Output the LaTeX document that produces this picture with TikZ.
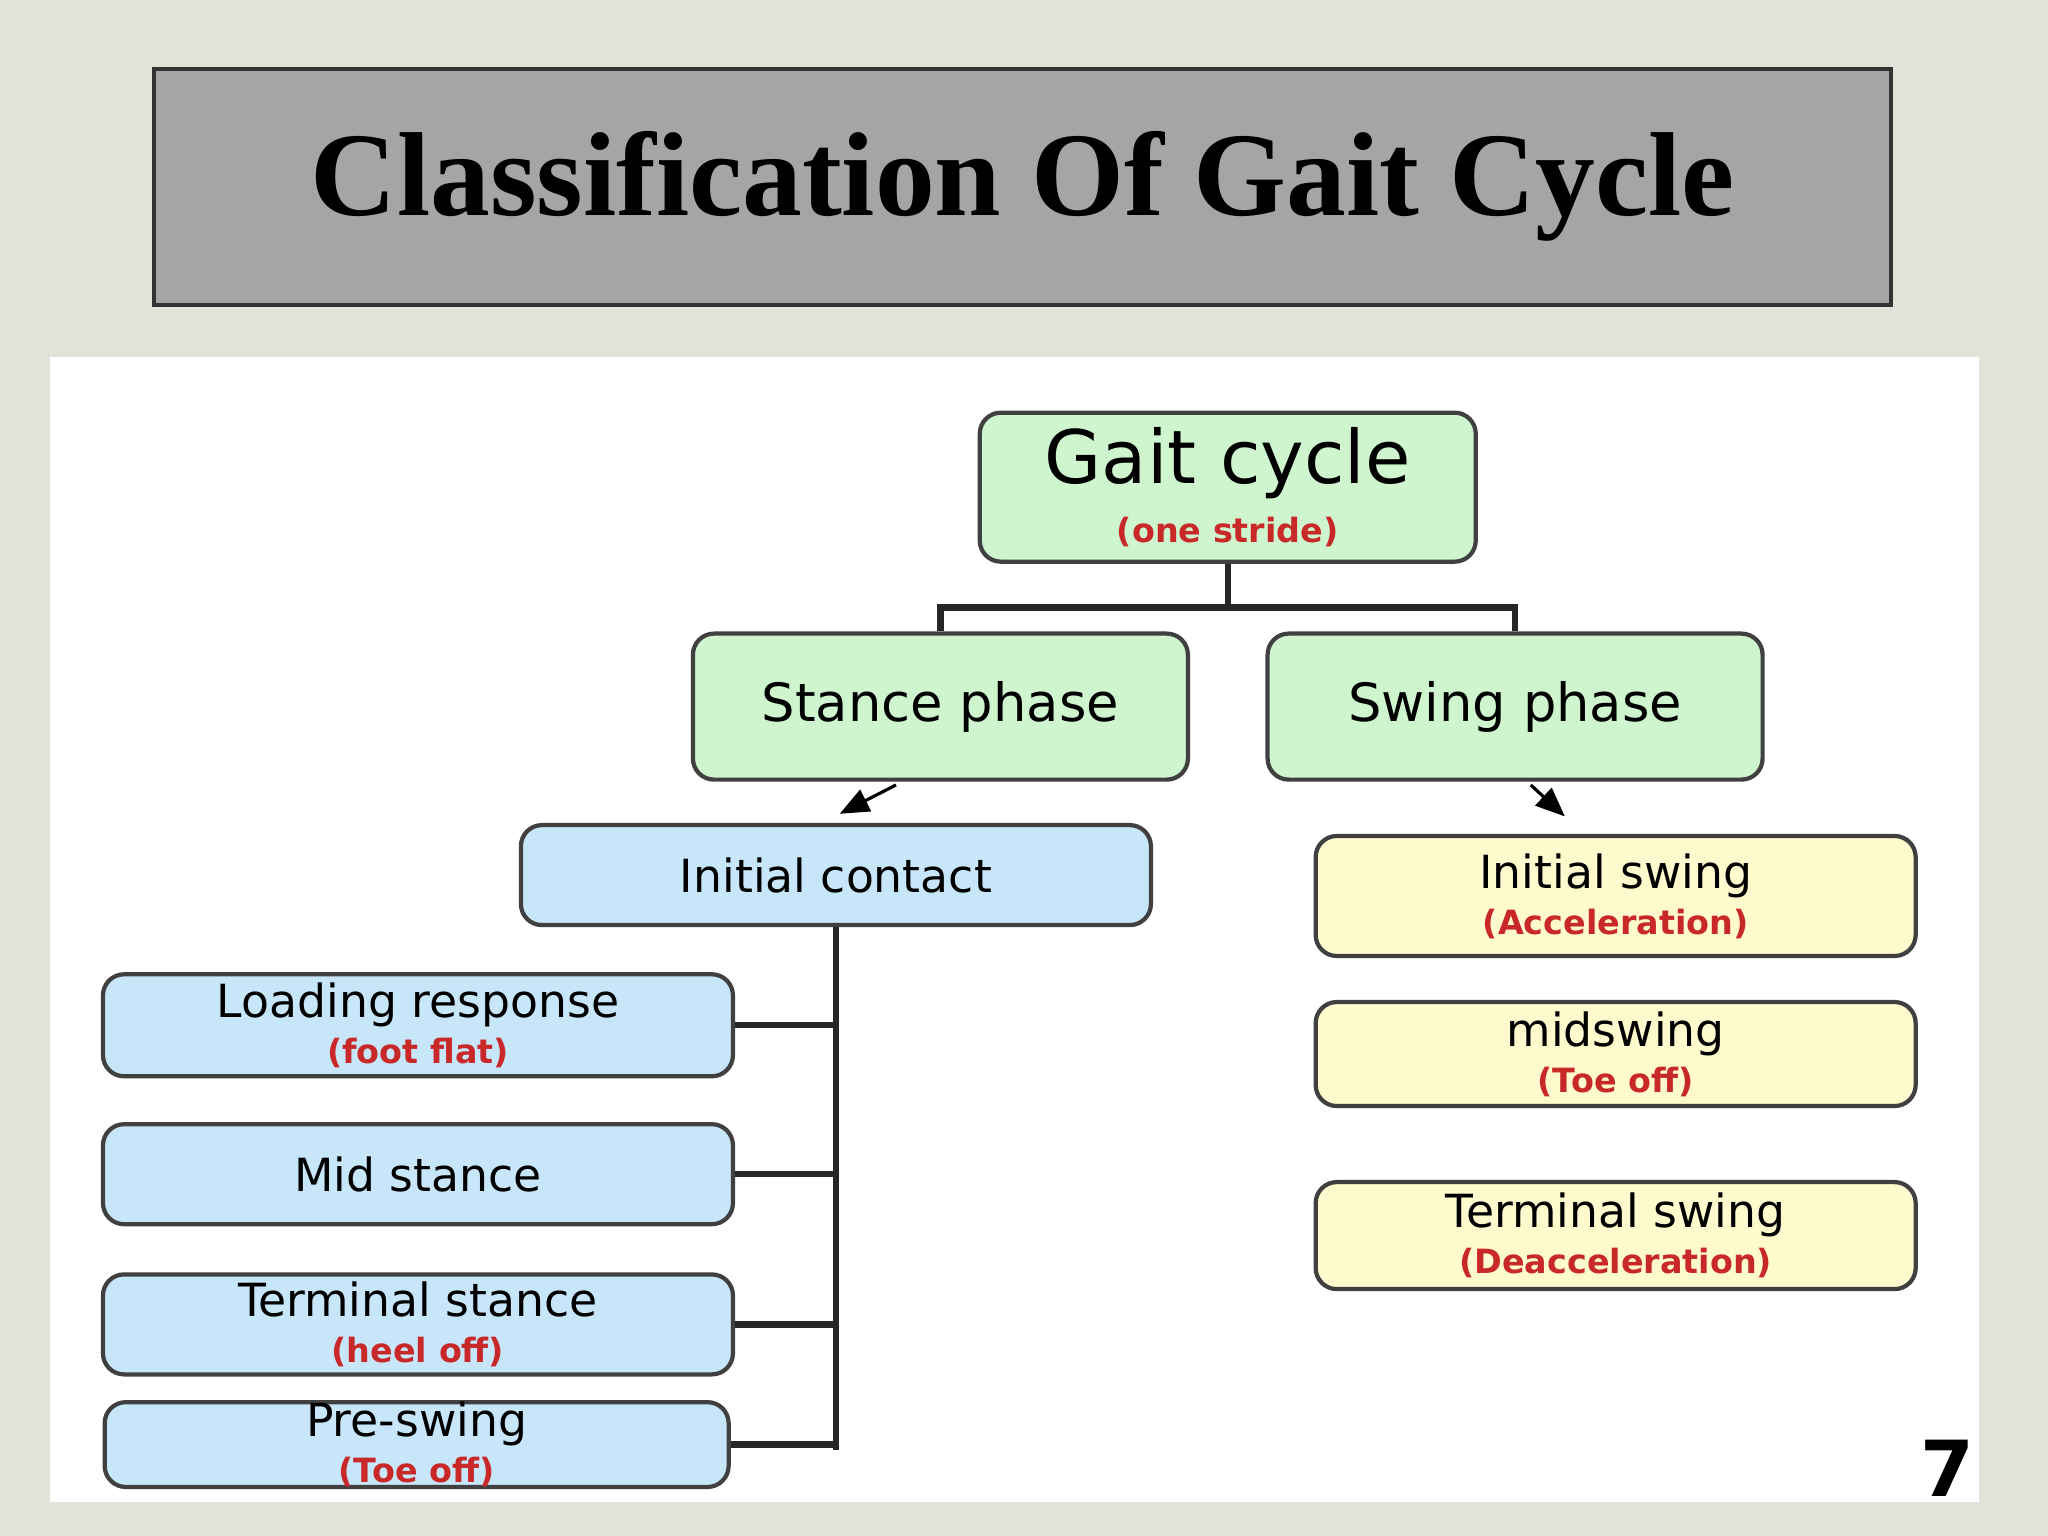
\documentclass[tikz,border=0pt]{standalone}
\usepackage{fontspec}
\setmainfont{DejaVu Sans}
\newfontfamily\titlefont{Liberation Serif}
\usetikzlibrary{arrows}
\definecolor{pagebg}{RGB}{226,226,216}
\definecolor{titlegray}{RGB}{165,165,165}
\definecolor{greenbox}{RGB}{206,245,206}
\definecolor{bluebox}{RGB}{200,230,250}
\definecolor{yellowbox}{RGB}{255,250,206}
\definecolor{subred}{RGB}{200,40,40}
\tikzset{
  box/.style={draw=black!75, line width=1.2pt, rounded corners=6pt, align=center, inner sep=0pt},
  phase/.style={box, fill=greenbox, minimum width=4.95cm, minimum height=1.46cm, font=\fontsize{15}{17}\selectfont},
  stance/.style={box, fill=bluebox, minimum width=6.3cm, font=\fontsize{13}{14}\selectfont},
  swing/.style={box, fill=yellowbox, minimum width=6.0cm, font=\fontsize{13}{14}\selectfont},
  link/.style={line width=1.8pt, black!85}
}
\newcommand{\sub}[1]{\\[-1pt]{\fontsize{9.5}{10}\selectfont\bfseries\color{subred}#1}}
\begin{document}
\begin{tikzpicture}[x=0.01306cm, y=-0.01306cm]
\useasboundingbox (0,0) rectangle (1568,1176);
\fill[pagebg] (0,0) rectangle (1568,1176);
\fill[white] (38,273) rectangle (1515,1150);

% title
\node[draw=black!80, line width=1pt, fill=titlegray, minimum width=17.37cm, minimum height=2.36cm,
  font=\titlefont\bfseries\fontsize{34}{38}\selectfont] (title) at (783,143) {Classification Of Gait Cycle};

% top level
\node[box, fill=greenbox, minimum width=4.96cm, minimum height=1.49cm] (gait) at (940,373)
  {{\fontsize{21}{23}\selectfont Gait cycle}\\[5pt]{\fontsize{9.5}{10}\selectfont\bfseries\color{subred}(one stride)}};
\node[phase] (stance) at (720,541) {Stance phase};
\node[phase] (swing) at (1160,541) {Swing phase};

% stance side
\node[box, fill=bluebox, minimum width=6.3cm, minimum height=1.0cm, font=\fontsize{13}{14}\selectfont] (ic) at (640,670) {Initial contact};
\node[stance, minimum height=1.02cm] (lr) at (320,785) {Loading response\sub{(foot flat)}};
\node[stance, minimum height=1.0cm] (ms) at (320,899) {Mid stance};
\node[stance, minimum height=1.0cm] (ts) at (320,1014) {Terminal stance\sub{(heel off)}};
\node[stance, minimum width=6.24cm, minimum height=0.82cm] (ps) at (319,1106) {Pre-swing\sub{(Toe off)}};

% swing side
\node[swing, minimum height=1.2cm] (is) at (1237,686) {Initial swing\sub{(Acceleration)}};
\node[swing, minimum height=1.04cm] (mw) at (1237,807) {midswing\sub{(Toe off)}};
\node[swing, minimum height=1.07cm] (tw) at (1237,946) {Terminal swing\sub{(Deacceleration)}};

% connectors
\coordinate (split) at (940,465);
\coordinate (spine) at (640,1110);
\draw[link] (gait.south) -- (split);
\draw[link] (stance.north) |- (split) -| (swing.north);
\draw[link] (ic.south) -- (spine);
\foreach \n in {lr,ms,ts,ps}
  \draw[link] (\n.east) -- (\n.east -| spine);
\coordinate (a1) at (686,601); \coordinate (a2) at (643,623);
\coordinate (b1) at (1172,601); \coordinate (b2) at (1198,625);
\draw[line width=0.9pt, arrows={-triangle 45}] (a1) -- (a2);
\draw[line width=0.9pt, arrows={-triangle 45}] (b1) -- (b2);

\node[font=\bfseries\fontsize{22}{22}\selectfont, anchor=south east, inner sep=0pt] (page) at (1512,1146) {7};
\end{tikzpicture}
\end{document}
